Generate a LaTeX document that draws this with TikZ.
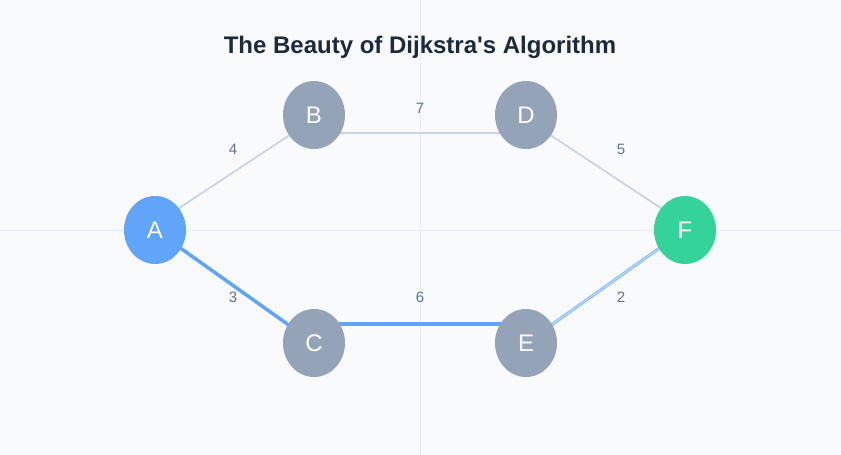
\documentclass[tikz,border=0pt]{standalone}
\usepackage{fontspec}
\setmainfont{Liberation Sans}
\usetikzlibrary{shapes.geometric}
\definecolor{bgcol}{HTML}{F8FAFC}
\definecolor{gridcol}{HTML}{E8EDF5}
\definecolor{grey}{HTML}{94A3B8}
\definecolor{lightedge}{HTML}{CBD5E1}
\definecolor{pathblue}{HTML}{60A5FA}
\definecolor{goal}{HTML}{34D399}
\definecolor{titlecol}{HTML}{1E293B}
\definecolor{labcol}{HTML}{64748B}
\tikzset{
  vertex/.style={ellipse,minimum width=62pt,minimum height=68pt,inner sep=0pt,fill=grey,text=white,font=\fontsize{24}{24}\selectfont},
  plain/.style={lightedge,line width=1.8pt},
  short/.style={pathblue,line width=3.5pt},
  weight/.style={text=labcol,font=\fontsize{15}{15}\selectfont}
}
\begin{document}
\begin{tikzpicture}[x=1pt,y=-1pt]
		\fill[bgcol] (0,0) rectangle (841,455);
		\useasboundingbox (0,0) rectangle (841,455);
		\draw[gridcol,line width=0.6pt] (0,230) -- (841,230);
		\draw[gridcol,line width=0.6pt] (420,0) -- (420,455);
		
		\node[font=\bfseries\fontsize{24}{24}\selectfont,text=titlecol] (title) at (420,47) {The Beauty of Dijkstra\textquotesingle s Algorithm};
		
		% edges first, vertices on top
		\coordinate (A) at (155,230);
		\coordinate (B) at (314,115);
		\coordinate (C) at (314,343);
		\coordinate (D) at (526,115);
		\coordinate (E) at (526,343);
		\coordinate (F) at (685,230);
		
		\draw[plain] ([yshift=6pt]A) -- ([yshift=-4pt]B);
		\draw[plain] ([yshift=-18pt]B) -- ([yshift=-18pt]D);
		\draw[plain] ([yshift=-4pt]D) -- ([yshift=6pt]F);
		\draw[short] (A) -- (C);
		\draw[short] ([yshift=19pt]C) -- ([yshift=19pt]E);
		\draw[pathblue!80,double=pathblue!40,double distance=1.2pt,line width=0.9pt] (E) -- (F);
		
		\node[vertex,fill=pathblue] (nA) at (A) {A};
		\node[vertex] (nB) at (B) {B};
		\node[vertex] (nC) at (C) {C};
		\node[vertex] (nD) at (D) {D};
		\node[vertex] (nE) at (E) {E};
		\node[vertex,fill=goal] (nF) at (F) {F};
		
		\node[weight] (wAB) at (233,149) {4};
		\node[weight] (wBD) at (420,108) {7};
		\node[weight] (wDF) at (621,149) {5};
		\node[weight] (wAC) at (233,297) {3};
		\node[weight] (wCE) at (420,297) {6};
		\node[weight] (wEF) at (621,297) {2};
\end{tikzpicture}
\end{document}
